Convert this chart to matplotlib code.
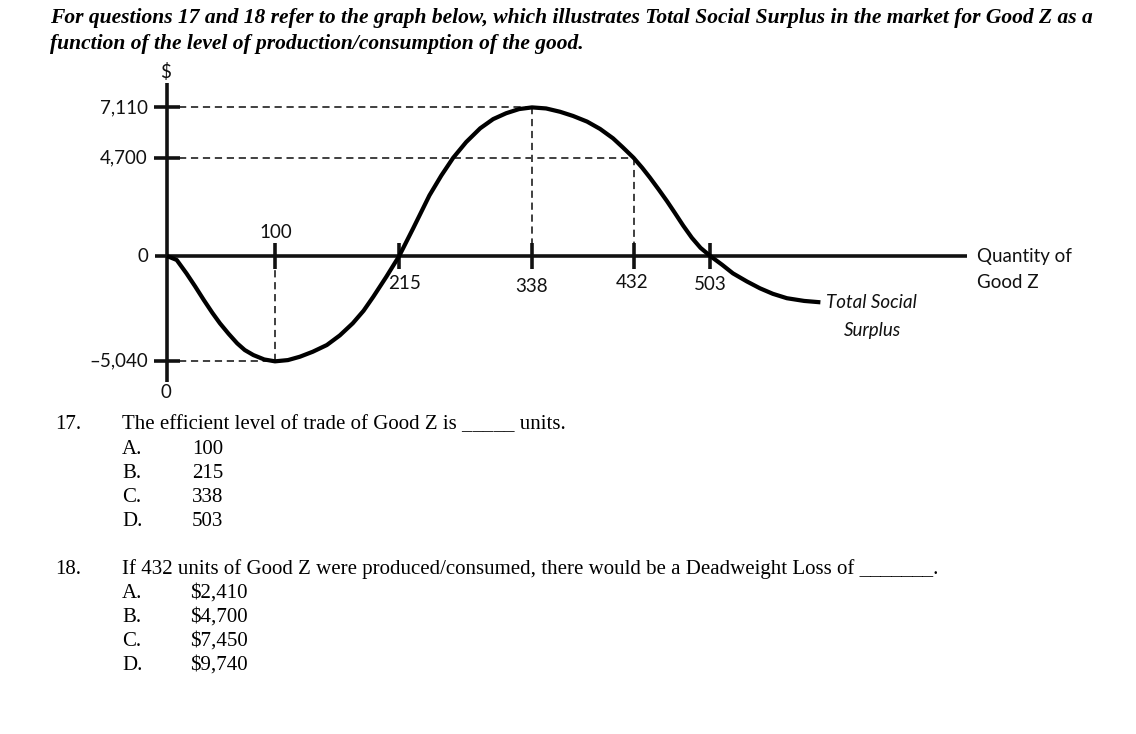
import matplotlib
matplotlib.use("Agg")
import matplotlib.pyplot as plt

# ---- data ----------------------------------------------------------------
quantity = [0, 9, 18, 26, 34, 42, 49, 57, 65, 72, 80, 90, 100, 112, 123, 135,
            148, 160, 172, 182, 191, 203, 215, 228, 243, 254, 265, 277, 290,
            302, 314, 326, 338, 351, 364, 376, 389, 401, 413, 422, 432, 440,
            447, 455, 463, 470, 478, 486, 494, 503, 514, 524, 537, 549, 561,
            574, 590, 605]
surplus = [0, -190, -830, -1450, -2100, -2720, -3220, -3720, -4180, -4500,
           -4740, -4950, -5040, -4980, -4820, -4580, -4260, -3800, -3220,
           -2620, -1950, -1000, 0, 1330, 2900, 3850, 4700, 5450, 6110, 6550,
           6830, 7030, 7110, 7060, 6900, 6700, 6430, 6080, 5630, 5200, 4700,
           4220, 3760, 3200, 2620, 2080, 1450, 870, 390, 0, -420, -830, -1220,
           -1545, -1810, -2020, -2150, -2215]

x_ticks = [100, 215, 338, 432, 503]
y_ticks = [7110, 4700, 0, -5040]
y_tick_labels = ["7,110", "4,700", "0", "\u20135,040"]

# guide lines: (quantity, surplus) points marked with dashes to both axes
guide_h = [(338, 7110), (432, 4700), (100, -5040)]
guide_v = [(100, -5040), (338, 7110), (432, 4700)]

title_lines = [
    "For questions 17 and 18 refer to the graph below, which illustrates Total Social Surplus in the market for Good Z as a",
    "function of the level of production/consumption of the good.",
]
q17 = "The efficient level of trade of Good Z is _____ units."
q17_options = [("A.", "100"), ("B.", "215"), ("C.", "338"), ("D.", "503")]
q18 = "If 432 units of Good Z were produced/consumed, there would be a Deadweight Loss of _______."
q18_options = [("A.", "$2,410"), ("B.", "$4,700"), ("C.", "$7,450"), ("D.", "$9,740")]

# ---- layout --------------------------------------------------------------
W, H = 1136, 734
DPI = 100
plt.rcParams["lines.scale_dashes"] = False
fig = plt.figure(figsize=(W / DPI, H / DPI), dpi=DPI)
fig.patch.set_facecolor("white")

OX, OY = 167.0, 256.0         # pixel position of the graph origin
SX, SY = 1.08, 0.0209         # pixels per unit of quantity / dollars
q_lo, q_hi = -15, 760
v_lo, v_hi = -6200, 8400
left_px = OX + q_lo * SX
right_px = OX + q_hi * SX
top_px = OY - v_hi * SY
bot_px = OY - v_lo * SY
ax = fig.add_axes([left_px / W, 1 - bot_px / H,
                   (right_px - left_px) / W, (bot_px - top_px) / H])
ax.set_xlim(q_lo, q_hi)
ax.set_ylim(v_lo, v_hi)
ax.axis("off")


def fx(px):
    return px / W


def fy(py):
    return 1 - py / H


sans = ["Lato", "DejaVu Sans"]
serif = ["Liberation Serif", "DejaVu Serif"]
dark = "#111111"
dash_col = "#444444"
px = 72 / DPI  # points per pixel

# axes lines
ax.plot([-11, 741], [0, 0], color=dark, lw=3.6 * px, solid_capstyle="butt")
ax.plot([0, 0], [-6030, 8280], color=dark, lw=3.6 * px, solid_capstyle="butt")

# dashed guides
for q, v in guide_h:
    ax.plot([11, q], [v, v], color=dash_col, lw=2.0 * px, dashes=(5.2, 3.4))
for q, v in guide_v:
    ax.plot([q, q], [v, 0], color=dash_col, lw=2.0 * px, dashes=(5.2, 3.4))

# tick marks
ax.plot(x_ticks, [0] * len(x_ticks), ls="none", marker="|",
        ms=27 * px, mew=3.6 * px, color=dark)
ax.plot([0] * 3, [7110, 4700, -5040], ls="none", marker="_",
        ms=27 * px, mew=3.6 * px, color=dark)

# total social surplus curve
ax.plot(quantity, surplus, color="black", lw=4.2 * px,
        solid_joinstyle="round", solid_capstyle="butt", zorder=5)

# axis labels
fs_ax = 13.5
for v, lab in zip(y_ticks, y_tick_labels):
    fig.text(fx(148), fy(OY - v * SY), lab, ha="right", va="center",
             fontsize=fs_ax, family=sans, color=dark)
fig.text(fx(166), fy(72), "$", ha="center", va="center", fontsize=fs_ax,
         family=sans, color=dark)
fig.text(fx(166), fy(393), "0", ha="center", va="center", fontsize=fs_ax,
         family=sans, color=dark)
x_label_pos = {100: (276, 232), 215: (405, 284), 338: (532, 286),
               432: (632, 283), 503: (710, 285)}
for q in x_ticks:
    xp, yp = x_label_pos[q]
    fig.text(fx(xp), fy(yp), str(q), ha="center", va="center",
             fontsize=fs_ax, family=sans, color=dark)
fig.text(fx(977), fy(256), "Quantity of", ha="left", va="center",
         fontsize=fs_ax, family=sans, color=dark)
fig.text(fx(977), fy(283), "Good Z", ha="left", va="center",
         fontsize=fs_ax, family=sans, color=dark)
fig.text(fx(826), fy(302), "Total Social", ha="left", va="center",
         fontsize=fs_ax, family=sans, style="italic", color=dark)
fig.text(fx(873), fy(331), "Surplus", ha="center", va="center",
         fontsize=fs_ax, family=sans, style="italic", color=dark)

# heading
for i, line in enumerate(title_lines):
    fig.text(fx(50), fy(18 + 26 * i), line, ha="left", va="center",
             fontsize=15.5, family=serif, weight="bold", style="italic",
             color="black")

# questions
fs_q = 15.0
fig.text(fx(55), fy(425), "17.", ha="left", va="center", fontsize=fs_q,
         family=serif, color="black")
fig.text(fx(122), fy(425), q17, ha="left", va="center", fontsize=fs_q,
         family=serif, color="black")
for i, (letter, val) in enumerate(q17_options):
    y = 449 + 24 * i
    fig.text(fx(122), fy(y), letter, ha="left", va="center", fontsize=fs_q,
             family=serif, color="black")
    fig.text(fx(192), fy(y), val, ha="left", va="center", fontsize=fs_q,
             family=serif, color="black")

fig.text(fx(55), fy(569), "18.", ha="left", va="center", fontsize=fs_q,
         family=serif, color="black")
fig.text(fx(122), fy(569), q18, ha="left", va="center", fontsize=fs_q,
         family=serif, color="black")
for i, (letter, val) in enumerate(q18_options):
    y = 593 + 24 * i
    fig.text(fx(122), fy(y), letter, ha="left", va="center", fontsize=fs_q,
             family=serif, color="black")
    fig.text(fx(190), fy(y), val, ha="left", va="center", fontsize=fs_q,
             family=serif, color="black")

fig.savefig("out.png", dpi=DPI, facecolor="white")
